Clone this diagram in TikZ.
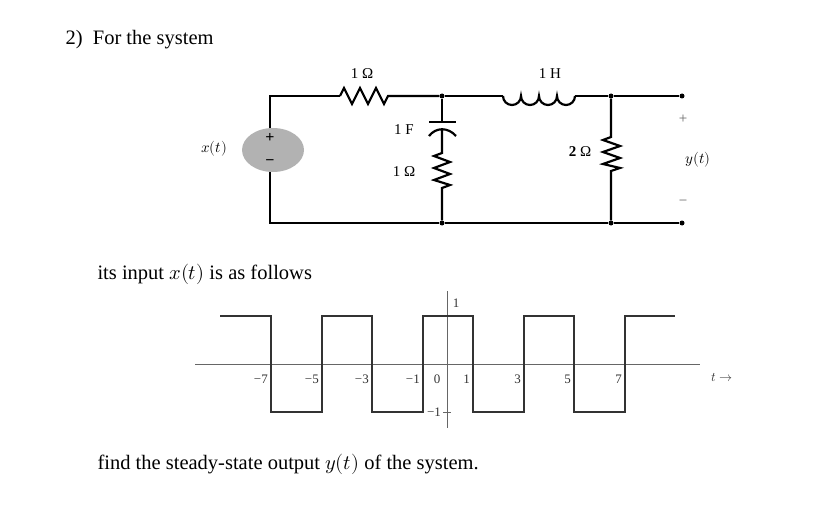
\documentclass[tikz,border=0pt]{standalone}
\usetikzlibrary{shapes.geometric}
\usepackage{fontspec}
\setmainfont{Liberation Serif}
\usepackage{unicode-math}
\setmathfont{Latin Modern Math}
\begin{document}
\begin{tikzpicture}[x=1pt,y=-1pt,
  wire/.style={line width=2.2pt},
  sig/.style={line width=1.6pt,black!80},
  ax/.style={line width=0.7pt,black!60},
  lbl/.style={font=\fontsize{15}{17}\selectfont},
  tick/.style={font=\fontsize{13}{15}\selectfont,black!80},
  txt/.style={font=\fontsize{20.5}{24}\selectfont,anchor=west},
  dot/.style={circle,fill,inner sep=0pt,minimum size=5pt}]
\useasboundingbox (0,0) rectangle (816,513);
% texts
\node[txt] (t1) at (62,40) {2)\ \ For the system};
\node[txt] (t2) at (94,274) {its input $x(t)$ is as follows};
\node[txt] (t3) at (94,464) {find the steady-state output $y(t)$ of the system.};
% circuit coordinates
\coordinate (tl) at (270,96);
\coordinate (bl) at (270,223);
\node[dot] (n1) at (442,96) {};
\node[dot] (n2) at (611,96) {};
\node[dot] (b1) at (442,223) {};
\node[dot] (b2) at (611,223) {};
\node[dot] (o1) at (682,96) {};
\node[dot] (o2) at (682,223) {};
\node[ellipse,draw=none,fill=black!30,minimum width=62pt,minimum height=44pt,inner sep=0pt] (src) at (273,150) {};
\node[font=\bfseries\fontsize{16}{16}\selectfont] (sp) at (270,138) {+};
\node[font=\bfseries\fontsize{16}{16}\selectfont] (sm) at (270,163) {\textminus};
% wires
\draw[wire] (src.north -| tl) -- (tl) -- (340,96);
\draw[wire] (340,96) -- (344,88) -- (352,104) -- (360,88) -- (368,104) -- (376,88) -- (384,104) -- (388,96) -- (n1);
\draw[wire] (n1) -- (503,96);
\draw[wire] (503,96) arc[start angle=180,end angle=0,radius=9] arc[start angle=180,end angle=0,radius=9] arc[start angle=180,end angle=0,radius=9] arc[start angle=180,end angle=0,radius=9];
\draw[wire] (575,96) -- (n2) -- (o1);
\draw[wire] (src.south -| bl) -- (bl) -- (b1) -- (b2) -- (o2);
% capacitor branch
\draw[wire] (n1) -- (442,122);
\draw[wire] (429,122) -- (456,122);
\draw[wire] (429,136) .. controls (436,127) and (448,127) .. (456,136);
\draw[wire] (442,129) -- (442,153) -- (434,156) -- (450,162) -- (434,168) -- (450,174) -- (434,180) -- (450,185) -- (442,188) -- (b1);
% 2 ohm branch
\draw[wire] (n2) -- (611,137) -- (603,140) -- (620,146) -- (603,152) -- (620,158) -- (603,164) -- (620,168) -- (611,171) -- (b2);
% labels
\node[lbl] (l1) at (362,74) {1 Ω};
\node[lbl] (l2) at (550,74) {1 H};
\node[lbl] (l3) at (404,130) {1 F};
\node[lbl] (l4) at (404,172) {1 Ω};
\node[lbl] (l5) at (580,152) {\textbf{2} Ω};
\node[lbl] (lx) at (214,149) {$x(t)$};
\node[lbl,black!60] (lp) at (683,119) {+};
\node[lbl] (ly) at (698,160) {$y(t)$};
\node[lbl,black!60] (lm) at (683,203) {\textminus};
% waveform
\coordinate (ha) at (195,364);
\coordinate (hb) at (700,364);
\coordinate (va) at (447,291);
\coordinate (vb) at (447,428);
\draw[ax] (ha) -- (hb);
\draw[ax] (va) -- (vb);
\draw[ax] (443,412) -- (451,412);
\draw[sig] (220,316) -- (271,316) -- (271,412) -- (322,412) -- (322,316) -- (372,316) -- (372,412) -- (423,412) -- (423,316) -- (473,316) -- (473,412) -- (524,412) -- (524,316) -- (574,316) -- (574,412) -- (625,412) -- (625,316) -- (675,316);
\foreach \v/\x in {{\textminus7}/269,{\textminus5}/320,{\textminus3}/370,{\textminus1}/421,1/471,3/522,5/572,7/623}
  \node[tick,anchor=east,inner sep=1pt] at (\x,379) {\v};
\node[tick] (z) at (437,379) {0};
\node[tick] (one) at (456,303) {1};
\node[tick] (mone) at (434,412) {\textminus1};
\node[tick] (tt) at (722,378) {$t\rightarrow$};
\end{tikzpicture}
\end{document}
